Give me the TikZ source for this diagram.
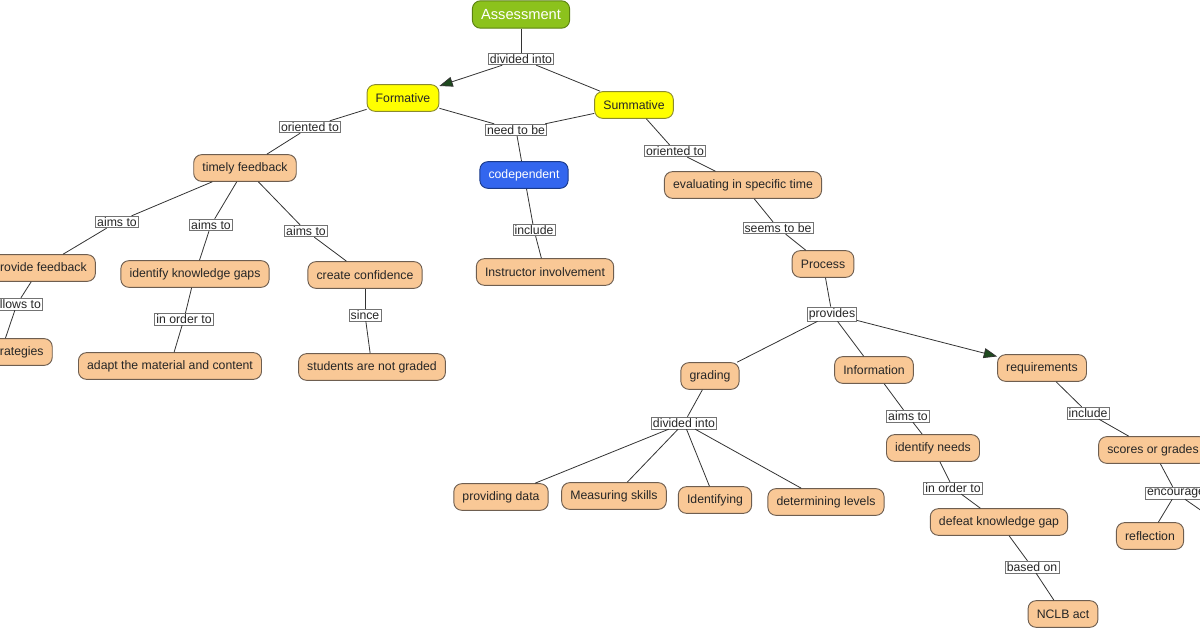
\documentclass[tikz,border=0pt]{standalone}
\usepackage{fontspec}
\setmainfont{Liberation Sans}
\usetikzlibrary{arrows.meta}

\definecolor{peach}{HTML}{F9C896}
\definecolor{peachline}{HTML}{6E5E50}
\definecolor{leaf}{HTML}{8CC21C}
\definecolor{leafline}{HTML}{5A8010}
\definecolor{sun}{HTML}{FFFF00}
\definecolor{sunline}{HTML}{8A8A30}
\definecolor{sky}{HTML}{3366EE}
\definecolor{skyline}{HTML}{1A3A8A}
\definecolor{tip}{HTML}{1E4A1E}

\begin{document}
\begin{tikzpicture}[x=0.75pt, y=-0.75pt,
    >={Triangle[length=10pt,width=7.5pt,fill=tip]},
    color=black!80, line width=0.6pt,
    concept/.style={rectangle, rounded corners=6pt, draw=peachline, fill=peach,
      line width=0.7pt, font=\fontsize{9.2}{11}\selectfont, inner xsep=6.5pt,
      inner ysep=0pt, minimum height=20pt, text=black!85},
    link/.style={rectangle, draw=black!55, fill=white, line width=0.5pt,
      font=\fontsize{9.2}{11}\selectfont, inner xsep=1.2pt, inner ysep=1pt, text=black!85}]
      \useasboundingbox (0,0) rectangle (1200,630);
      \clip (0,0) rectangle (1200,630);

      % Top of the map
      \node[concept, fill=leaf, draw=leafline, text=white, font=\fontsize{11}{13}\selectfont, minimum height=20.5pt] (Assess) at (521,14.5) {Assessment};
      \node[concept, fill=sun, draw=sunline] (Form) at (403,98) {Formative};
      \node[concept, fill=sun, draw=sunline] (Summ) at (634,105) {Summative};
      \node[concept, fill=sky, draw=skyline, text=white] (Codep) at (524,175) {codependent};
      \node[concept] (Instr) at (545,272) {Instructor involvement};

      % Formative branch
      \node[concept] (Timely) at (245,168) {timely feedback};
      \node[concept] (ProvFb) at (40,268) {provide feedback};
      \node[concept] (IdGaps) at (195,274) {identify knowledge gaps};
      \node[concept] (Conf) at (365,275) {create confidence};
      \node[concept] (Strat) at (17,352) {strategies};
      \node[concept] (Adapt) at (170,366) {adapt the material and content};
      \node[concept] (NotGraded) at (372,367) {students are not graded};

      % Summative branch
      \node[concept] (Eval) at (743,185) {evaluating in specific time};
      \node[concept] (Proc) at (823,264) {Process};
      \node[concept] (Grad) at (710,376) {grading};
      \node[concept] (Info) at (874,370) {Information};
      \node[concept] (Req) at (1042,368) {requirements};
      \node[concept] (ProvData) at (501,497) {providing data};
      \node[concept] (Meas) at (614,496) {Measuring skills};
      \node[concept] (Ident) at (715,500) {Identifying};
      \node[concept] (Determ) at (826,502) {determining levels};
      \node[concept] (IdNeeds) at (933,448) {identify needs};
      \node[concept] (Defeat) at (999,522) {defeat knowledge gap};
      \node[concept] (NCLB) at (1063,614) {NCLB act};
      \node[concept] (Scores) at (1153,450) {scores or grades};
      \node[concept] (Reflect) at (1150,536) {reflection};
      \coordinate (Off) at (1232,532);

      % Linking phrases
      \node[link] (L1) at (521,59) {divided into};
      \node[link] (L2) at (516,130) {need to be};
      \node[link] (L3) at (534,230) {include};
      \node[link] (L4) at (310,127) {oriented to};
      \node[link] (L5) at (675,151) {oriented to};
      \node[link] (L6) at (778,228) {seems to be};
      \node[link] (L7) at (832,314) {provides};
      \node[link] (L8) at (684,423) {divided into};
      \node[link] (L9) at (908,416) {aims to};
      \node[link] (L10) at (953,488) {in order to};
      \node[link] (L11) at (1032,567) {based on};
      \node[link] (L12) at (1088,413) {include};
      \node[link] (L13) at (1176,493) {encourage};
      \node[link] (L14) at (117,222) {aims to};
      \node[link] (L15) at (211,225) {aims to};
      \node[link] (L16) at (306,231) {aims to};
      \node[link] (L17) at (17,304) {allows to};
      \node[link] (L18) at (184,319) {in order to};
      \node[link] (L19) at (365,315) {since};

      % Connections
      \draw (Assess) -- (L1);
      \draw[->] (L1) -- (Form);
      \draw (L1) -- (Summ);
      \draw (Form) -- (L2);
      \draw (Summ) -- (L2);
      \draw (L2) -- (Codep);
      \draw (Codep) -- (L3);
      \draw (L3) -- (Instr);
      \draw (Form) -- (L4);
      \draw (L4) -- (Timely);
      \draw (Summ) -- (L5);
      \draw (L5) -- (Eval);
      \draw (Eval) -- (L6);
      \draw (L6) -- (Proc);
      \draw (Proc) -- (L7);
      \draw (L7) -- (Grad);
      \draw (L7) -- (Info);
      \draw[->] (L7) -- (Req);
      \draw (Grad) -- (L8);
      \draw (L8) -- (ProvData);
      \draw (L8) -- (Meas);
      \draw (L8) -- (Ident);
      \draw (L8) -- (Determ);
      \draw (Info) -- (L9);
      \draw (L9) -- (IdNeeds);
      \draw (IdNeeds) -- (L10);
      \draw (L10) -- (Defeat);
      \draw (Defeat) -- (L11);
      \draw (L11) -- (NCLB);
      \draw (Req) -- (L12);
      \draw (L12) -- (Scores);
      \draw (Scores) -- (L13);
      \draw (L13) -- (Reflect);
      \draw (L13) -- (Off);
      \draw (Timely) -- (L14);
      \draw (L14) -- (ProvFb);
      \draw (Timely) -- (L15);
      \draw (L15) -- (IdGaps);
      \draw (Timely) -- (L16);
      \draw (L16) -- (Conf);
      \draw (ProvFb) -- (L17);
      \draw (L17) -- (Strat.130);
      \draw (IdGaps) -- (L18);
      \draw (L18) -- (Adapt);
      \draw (Conf) -- (L19);
      \draw (L19) -- (NotGraded);
    \end{tikzpicture}
\end{document}
